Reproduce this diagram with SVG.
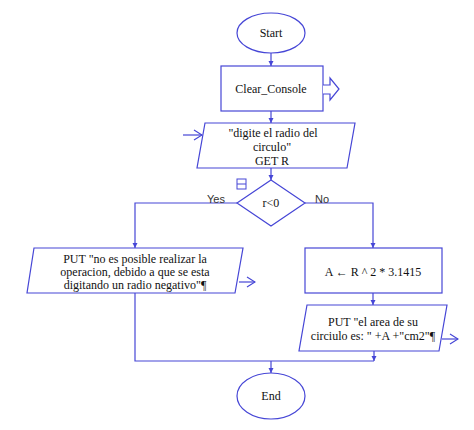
<svg xmlns="http://www.w3.org/2000/svg" width="474" height="430" viewBox="0 0 474 430">
<style>
.s{fill:#fff;stroke:#4646d6;stroke-width:1.2}
.c{fill:none;stroke:#4646d6;stroke-width:1.2}
text{font-family:"Liberation Serif","Times New Roman",serif;font-size:12px;fill:#111;text-anchor:middle}
.l{font-family:"Liberation Sans",Arial,sans-serif;font-size:11px;fill:#333;text-anchor:start}
</style>
<defs>
<marker id="a" markerWidth="6" markerHeight="6" refX="5" refY="3" orient="auto" markerUnits="userSpaceOnUse">
<path d="M0,0.5 L5,3 L0,5.5 Z" fill="#4646d6"/>
</marker>
<marker id="o" markerWidth="10" markerHeight="12" refX="9" refY="6" orient="auto" markerUnits="userSpaceOnUse">
<path d="M1,1 L9,6 L1,11" fill="none" stroke="#4646d6" stroke-width="1.2"/>
</marker>
</defs>
<rect width="474" height="430" fill="#fff"/>
<g id="connectors">
<path class="c" d="M271,53 V66" marker-end="url(#a)"/>
<path class="c" d="M271,111 V123" marker-end="url(#a)"/>
<path class="c" d="M183,135 H202" marker-end="url(#o)"/>
<path class="c" d="M271,168 V180" marker-end="url(#a)"/>
<path class="c" d="M237,203 H135 V248" marker-end="url(#a)"/>
<path class="c" d="M305,203 H373 V248" marker-end="url(#a)"/>
<path class="c" d="M373,293 V305" marker-end="url(#a)"/>
<path class="c" d="M239,282 H255" marker-end="url(#o)"/>
<path class="c" d="M442,339 H458" marker-end="url(#o)"/>
<path class="c" d="M135,293 V361 H374"/>
<path class="c" d="M374,351 V361" marker-end="url(#a)"/>
<path class="c" d="M271,361 V373" marker-end="url(#a)"/>
<text class="l" x="207" y="203">Yes</text>
<text class="l" x="315" y="203">No</text>
</g>
<g id="start">
<ellipse class="s" cx="271" cy="33" rx="34" ry="20"/>
<text x="271" y="37">Start</text>
</g>
<g id="clear">
<rect class="s" x="221" y="66" width="102" height="45"/>
<text x="271" y="93">Clear_Console</text>
<path class="s" d="M323,85 H330 V78 L339,89 L330,100 V94 H323"/>
</g>
<g id="input">
<path class="s" d="M205,123 H355 L347,168 H197 Z"/>
<text x="273" y="137">"digite el radio del</text>
<text x="272" y="151">circulo"</text>
<text x="272" y="165">GET R</text>
</g>
<g id="decision">
<path class="s" d="M271,180 L305,203 L271,226 L237,203 Z"/>
<text x="271" y="207">r&lt;0</text>
<rect x="237" y="179" width="9" height="10" fill="none" stroke="#4646d6" stroke-width="1"/>
<path d="M237,184 H246" stroke="#4646d6" stroke-width="1"/>
</g>
<g id="neg">
<path class="s" d="M34,248 H243 L235,293 H27 Z"/>
<text x="135" y="263">PUT "no es posible realizar la</text>
<text x="135" y="276">operacion, debido a que se esta</text>
<text x="135" y="289">digitando un radio negativo"¶</text>
</g>
<g id="calc">
<rect class="s" x="305" y="248" width="137" height="45"/>
<text x="373" y="276">A ← R ^ 2 * 3.1415</text>
</g>
<g id="out">
<path class="s" d="M307,305 H447 L439,351 H299 Z"/>
<text x="373" y="326">PUT "el area de su</text>
<text x="373" y="340">circiulo es: " +A +"cm2"¶</text>
</g>
<g id="end">
<ellipse class="s" cx="271" cy="396" rx="34" ry="23"/>
<text x="271" y="400">End</text>
</g>
</svg>
